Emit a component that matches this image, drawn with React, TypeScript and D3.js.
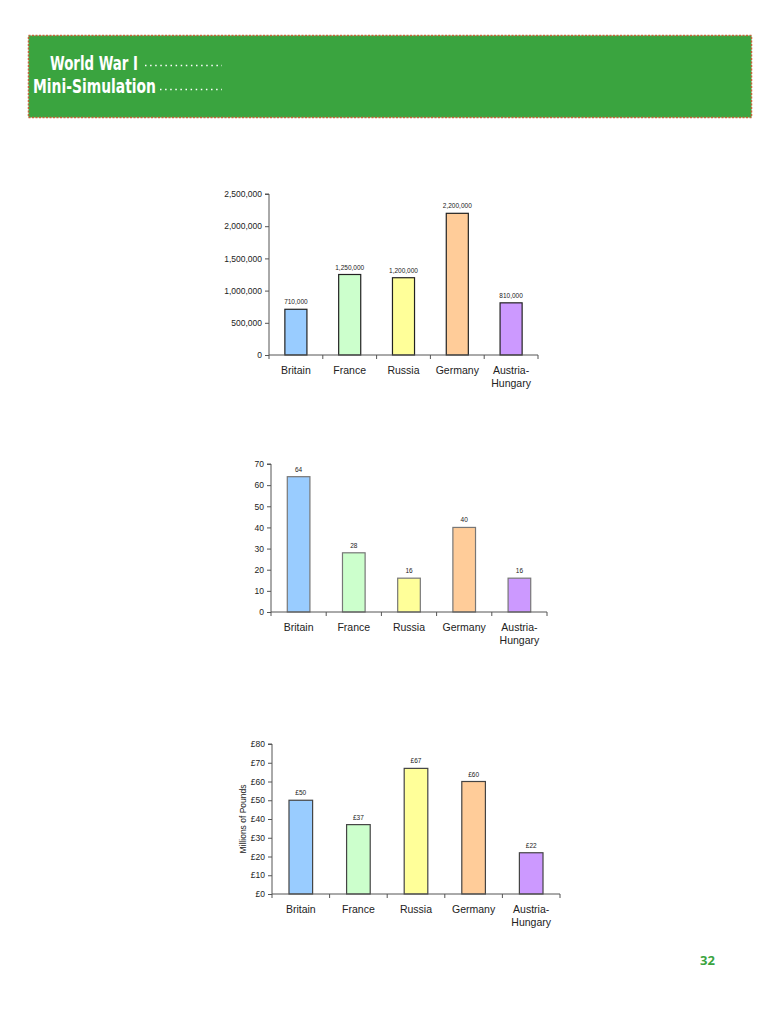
import { useEffect, useRef } from 'react'
import * as d3 from 'd3'

const countries = ['Britain', 'France', 'Russia', 'Germany', 'Austria-Hungary']
const barColors = ['#99ccff', '#ccffcc', '#ffff99', '#ffcc99', '#cc99ff']

const soldiers = [710000, 1250000, 1200000, 2200000, 810000]
const soldierTicks = [0, 500000, 1000000, 1500000, 2000000, 2500000]

const ships = [64, 28, 16, 40, 16]
const shipTicks = [0, 10, 20, 30, 40, 50, 60, 70]

const spending = [50, 37, 67, 60, 22]
const spendingTicks = [0, 10, 20, 30, 40, 50, 60, 70, 80]

interface BarChartProps {
  values: number[]
  ticks: number[]
  left: number
  top: number
  right: number
  bottom: number
  tickFormat: (v: number) => string
  labelFormat: (v: number) => string
  barStroke: string
  yTitle?: string
}

function BarChart({ values, ticks, left, top, right, bottom, tickFormat, labelFormat, barStroke, yTitle }: BarChartProps) {
  const gRef = useRef<SVGGElement>(null)

  useEffect(() => {
    if (!gRef.current) return
    const g = d3.select(gRef.current)
    g.selectAll('*').remove()

    const x = d3.scaleBand<string>()
      .domain(countries)
      .range([left, right])
      .paddingInner(0.59)
      .paddingOuter(0.295)

    const y = d3.scaleLinear()
      .domain([0, d3.max(ticks) || 0])
      .range([bottom, top])

    // bars
    g.selectAll('rect.bar')
      .data(values)
      .enter()
      .append('rect')
      .attr('class', 'bar')
      .attr('x', (d, i) => x(countries[i]) || 0)
      .attr('y', d => y(d))
      .attr('width', x.bandwidth())
      .attr('height', d => bottom - y(d))
      .attr('fill', (d, i) => barColors[i])
      .attr('stroke', barStroke)
      .attr('stroke-width', 1.2)

    // value labels
    g.selectAll('text.val')
      .data(values)
      .enter()
      .append('text')
      .attr('class', 'val')
      .attr('x', (d, i) => (x(countries[i]) || 0) + x.bandwidth() / 2)
      .attr('y', d => y(d) - 5)
      .attr('text-anchor', 'middle')
      .attr('font-size', 6.5)
      .attr('fill', '#222')
      .text(d => labelFormat(d))

    // y axis
    const yAxis = d3.axisLeft(y)
      .tickValues(ticks)
      .tickSize(4)
      .tickPadding(3)
      .tickFormat(d => tickFormat(d as number))
    const ya = g.append('g')
      .attr('transform', `translate(${left},0)`)
      .call(yAxis)
    ya.select('.domain').attr('stroke', '#555').attr('d', `M-4,${top}H0V${bottom}`)
    ya.selectAll('line').attr('stroke', '#555')
    ya.selectAll('text').attr('font-size', 8.5).attr('fill', '#222').attr('font-family', 'Liberation Sans, Arial, sans-serif')

    // x axis line and boundary ticks
    g.append('line')
      .attr('x1', left).attr('x2', right)
      .attr('y1', bottom).attr('y2', bottom)
      .attr('stroke', '#555')
    const step = (right - left) / countries.length
    g.selectAll('line.xt')
      .data(d3.range(countries.length + 1))
      .enter()
      .append('line')
      .attr('class', 'xt')
      .attr('x1', i => left + i * step).attr('x2', i => left + i * step)
      .attr('y1', bottom).attr('y2', bottom + 4)
      .attr('stroke', '#555')

    // category labels
    const cats = g.selectAll('text.cat')
      .data(countries)
      .enter()
      .append('text')
      .attr('class', 'cat')
      .attr('x', d => (x(d) || 0) + x.bandwidth() / 2)
      .attr('y', bottom + 19)
      .attr('text-anchor', 'middle')
      .attr('font-size', 10.5)
      .attr('fill', '#222')
    cats.each(function (d) {
      const parts = d.includes('-') ? [d.split('-')[0] + '-', d.split('-')[1]] : [d]
      const t = d3.select(this)
      parts.forEach((p, i) => {
        t.append('tspan')
          .attr('x', (x(d) || 0) + x.bandwidth() / 2)
          .attr('dy', i === 0 ? 0 : 13)
          .text(p)
      })
    })

    if (yTitle) {
      g.append('text')
        .attr('transform', `translate(${left - 26},${(top + bottom) / 2}) rotate(-90)`)
        .attr('text-anchor', 'middle')
        .attr('font-size', 8.5)
        .attr('fill', '#222')
        .text(yTitle)
    }
  }, [values, ticks, left, top, right, bottom, tickFormat, labelFormat, barStroke, yTitle])

  return <g ref={gRef} fontFamily="Liberation Sans, Arial, sans-serif" />
}

const commas = d3.format(',')
const pounds = (v: number) => '£' + v

export default function App() {
  return (
    <svg
      width={768}
      height={1024}
      style={{ position: 'absolute', left: 0, top: 0, background: '#fff' }}
    >
      {/* header banner */}
      <rect x={28.5} y={35.5} width={723} height={82} fill="#3aa43f" stroke="#c8643a" strokeWidth={1.5} strokeDasharray="2 1.5" />
      <g fontFamily="DejaVu Sans Condensed, Liberation Sans Narrow, sans-serif" fontWeight="bold" fill="#fff" fontSize={19}>
        <text x={50} y={69.5} textLength={88} lengthAdjust="spacingAndGlyphs">World War I</text>
        <text x={33} y={93} textLength={123} lengthAdjust="spacingAndGlyphs">Mini-Simulation</text>
      </g>
      <line x1={145} x2={222} y1={65.5} y2={65.5} stroke="#fff" strokeWidth={1.5} strokeDasharray="1.5 3.6" />
      <line x1={160} x2={222} y1={89.5} y2={89.5} stroke="#fff" strokeWidth={1.5} strokeDasharray="1.5 3.6" />

      <BarChart
        values={soldiers}
        ticks={soldierTicks}
        left={269}
        right={538}
        top={194}
        bottom={355}
        tickFormat={commas}
        labelFormat={commas}
        barStroke="#222"
      />
      <BarChart
        values={ships}
        ticks={shipTicks}
        left={271}
        right={547}
        top={464}
        bottom={612}
        tickFormat={v => String(v)}
        labelFormat={v => String(v)}
        barStroke="#777"
      />
      <BarChart
        values={spending}
        ticks={spendingTicks}
        left={272}
        right={560}
        top={744}
        bottom={894}
        tickFormat={pounds}
        labelFormat={pounds}
        barStroke="#444"
        yTitle="Millions of Pounds"
      />

      <text x={700} y={965} fontFamily="Open Sans, sans-serif" fontWeight="bold" fontSize={13} fill="#3aa43f">32</text>
    </svg>
  )
}
